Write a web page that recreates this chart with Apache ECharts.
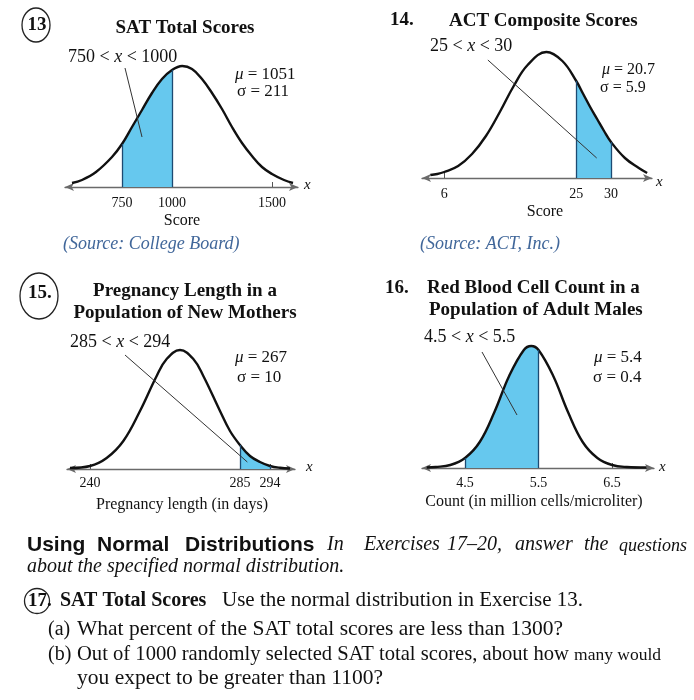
<!DOCTYPE html>
<html><head><meta charset="utf-8">
<script src="https://cdn.jsdelivr.net/npm/echarts@6/dist/echarts.min.js"></script>
<style>html,body{margin:0;padding:0;background:#fff}#c{width:694px;height:700px}</style>
</head><body><div id="c"></div>
<script>
const SERIF = '"Liberation Serif","Times New Roman",serif';
const SANS = '"Liberation Sans",Arial,sans-serif';
const SHADE = '#66c8ee';

// ---- Exercise 13: SAT Total Scores (x = score, y = curve height)
const satCurve = [[500,4],[550,7],[620,15],[700,30],[750,43],[800,60],[850,77],[900,94],[950,108],[1000,117],[1051,121],[1100,118],[1150,108],[1200,94],[1250,78],[1300,60],[1350,44],[1400,31],[1450,20],[1500,13],[1560,7],[1605,4]];
const satRange = [750, 1000];
const satTicks = [750, 1000, 1500];

// ---- Exercise 14: ACT Composite Scores
const actCurve = [[4,3],[5,4],[6,6],[8,12],[10,24],[12,42],[14,66],[16,92],[18,113],[20.7,126],[23,117],[25,97],[26,84],[27,71],[28,59],[29,47],[30,36],[32,20],[34,10],[35.2,5]];
const actRange = [25, 30];
const actTicks = [6, 25, 30];

// ---- Exercise 15: Pregnancy length
const pregCurve = [[234,1],[240,3],[245,11],[250,28],[255,58],[260,93],[263,110],[267,119],[271,110],[274,93],[279,58],[282,38],[285,24],[288,13],[291,7],[294,3],[297,1.2],[300,0.5]];
const pregRange = [285, 294];
const pregTicks = [240, 285, 294];

// ---- Exercise 16: Red blood cell count
const rbcCurve = [[3.98,0.5],[4.1,1],[4.3,3],[4.5,10],[4.7,26],[4.9,56],[5.1,92],[5.3,118],[5.4,122],[5.5,118],[5.7,92],[5.9,56],[6.1,26],[6.3,10],[6.5,3],[6.7,1],[6.97,0.5]];
const rbcRange = [4.5, 5.5];
const rbcTicks = [4.5, 5.5, 6.5];

const charts = [
  {grid:{left:65, top:57, width:233, height:130}, min:465, max:1630, curve:satCurve, range:satRange, ticks:satTicks, margin:9, leader:[[765,119],[850,50]]},
  {grid:{left:422, top:48, width:230, height:130}, min:2.8, max:35.9, curve:actCurve, range:actRange, ticks:actTicks, margin:9, leader:[[12.28,118],[27.94,20]]},
  {grid:{left:67, top:339, width:228, height:130}, min:233.1, max:301.5, curve:pregCurve, range:pregRange, ticks:pregTicks, margin:7, leader:[[250.5,114],[287.2,7]]},
  {grid:{left:422, top:338, width:232, height:130}, min:3.915, max:7.07, curve:rbcCurve, range:rbcRange, ticks:rbcTicks, margin:8, leader:[[4.731,116],[5.207,53]]}
];

const grids = [], xAxes = [], yAxes = [], series = [];
charts.forEach((c, i) => {
  grids.push(Object.assign({containLabel:false, outerBoundsMode:'none'}, c.grid));
  xAxes.push({type:'value', gridIndex:i, min:c.min, max:c.max,
    axisLine:{show:true, onZero:false, symbol:['arrow','arrow'], symbolSize:[6,9], lineStyle:{color:'#6a6a6a', width:1.3}},
    axisTick:{show:true, inside:true, length:5, customValues:c.ticks, lineStyle:{color:'#555', width:1}},
    axisLabel:{show:true, customValues:c.ticks, margin:c.margin, color:'#111', fontFamily:SERIF, fontSize:14,
      formatter:v => String(v)},
    splitLine:{show:false}});
  yAxes.push({type:'value', gridIndex:i, min:0, max:c.grid.height, show:false});
  const lo = c.range[0], hi = c.range[1];
  const shade = c.curve.filter(p => p[0] >= lo - 1e-9 && p[0] <= hi + 1e-9);
  const yAt = v => c.curve.find(p => Math.abs(p[0] - v) < 1e-9)[1];
  series.push({type:'line', xAxisIndex:i, yAxisIndex:i, data:shade, smooth:0.4, symbol:'none',
    lineStyle:{width:0}, areaStyle:{color:SHADE, opacity:1}, z:2, silent:true, animation:false});
  series.push({type:'line', xAxisIndex:i, yAxisIndex:i, data:c.curve, smooth:0.4, symbol:'none',
    lineStyle:{color:'#111', width:2.4}, z:4, silent:true, animation:false,
    markLine:{silent:true, symbol:['none','none'], label:{show:false}, animation:false,
      data:[
        [{coord:[lo,0], lineStyle:{color:'#1d4a72', width:1.3, type:'solid'}},{coord:[lo,yAt(lo)]}],
        [{coord:[hi,0], lineStyle:{color:'#1d4a72', width:1.3, type:'solid'}},{coord:[hi,yAt(hi)]}],
        [{coord:c.leader[0], lineStyle:{color:'#333', width:1, type:'solid'}},{coord:c.leader[1]}]
      ]}});
});

function T(x, base, text, o) {
  o = o || {};
  const fs = o.fs || 18;
  const fam = o.fam || SERIF;
  const font = (o.italic ? 'italic ' : '') + (o.bold ? 'bold ' : '') + fs + 'px ' + fam;
  const st = {x:x, y:base - 0.34 * fs, text:text, fill:o.color || '#111', font:font,
    textAlign:o.align || 'left', align:o.align || 'left', textVerticalAlign:'middle', verticalAlign:'middle'};
  if (o.rich) st.rich = o.rich;
  return {type:'text', silent:true, z:10, style:st};
}
function ital(fs, fam) { return {i:{font:'italic ' + fs + 'px ' + (fam || SERIF), fill:'#111'}}; }
function ell(cx, cy, rx, ry) {
  return {type:'ellipse', silent:true, z:10, shape:{cx:cx, cy:cy, rx:rx, ry:ry}, style:{fill:'none', stroke:'#222', lineWidth:1.3}};
}
const SRC = '#41679a';

const g = [
  // 13
  ell(36, 25, 14, 17), T(37, 32, '13', {bold:true, fs:19, align:'center'}),
  T(185, 35, 'SAT Total Scores', {bold:true, fs:19, align:'center'}),
  T(68, 63, '750 < {i|x} < 1000', {fs:18, rich:ital(18)}),
  T(235, 80, '{i|μ} = 1051', {fs:17, rich:ital(17)}),
  T(237, 97, 'σ = 211', {fs:17}),
  T(304, 190, 'x', {fs:15, italic:true}),
  T(182, 226, 'Score', {fs:16, align:'center'}),
  T(63, 250, '(Source: College Board)', {fs:18, italic:true, color:SRC}),
  // 14
  T(390, 27, '14.', {bold:true, fs:19}),
  T(449, 28, 'ACT Composite Scores', {bold:true, fs:19}),
  T(430, 52, '25 < {i|x} < 30', {fs:18, rich:ital(18)}),
  T(602, 75, '{i|μ} = 20.7', {fs:16, rich:ital(16)}),
  T(600, 93, 'σ = 5.9', {fs:16}),
  T(656, 187, 'x', {fs:15, italic:true}),
  T(545, 217, 'Score', {fs:16, align:'center'}),
  T(420, 250, '(Source: ACT, Inc.)', {fs:18, italic:true, color:SRC}),
  // 15
  ell(39, 296, 19, 23), T(28, 300, '15.', {bold:true, fs:19}),
  T(185, 298, 'Pregnancy Length in a', {bold:true, fs:19, align:'center'}),
  T(185, 320, 'Population of New Mothers', {bold:true, fs:19, align:'center'}),
  T(70, 348, '285 < {i|x} < 294', {fs:18, rich:ital(18)}),
  T(235, 363, '{i|μ} = 267', {fs:17, rich:ital(17)}),
  T(237, 383, 'σ = 10', {fs:17}),
  T(306, 472, 'x', {fs:15, italic:true}),
  T(182, 510, 'Pregnancy length (in days)', {fs:16, align:'center'}),
  // 16
  T(385, 295, '16.', {bold:true, fs:19}),
  T(427, 295, 'Red Blood Cell Count in a', {bold:true, fs:19}),
  T(429, 317, 'Population of Adult Males', {bold:true, fs:19}),
  T(424, 343, '4.5 < {i|x} < 5.5', {fs:18, rich:ital(18)}),
  T(594, 363, '{i|μ} = 5.4', {fs:17, rich:ital(17)}),
  T(593, 383, 'σ = 0.4', {fs:17}),
  T(659, 472, 'x', {fs:15, italic:true}),
  T(534, 507, 'Count (in million cells/microliter)', {fs:16, align:'center'}),
  // bottom text
  T(27, 552, 'Using', {bold:true, fs:21, fam:SANS}),
  T(97, 552, 'Normal', {bold:true, fs:21, fam:SANS}),
  T(185, 552, 'Distributions', {bold:true, fs:21, fam:SANS}),
  T(327, 552, 'In', {italic:true, fs:20}),
  T(364, 552, 'Exercises', {italic:true, fs:20}),
  T(447, 552, '17–20,', {italic:true, fs:20}),
  T(515, 552, 'answer', {italic:true, fs:20}),
  T(584, 552, 'the', {italic:true, fs:20}),
  T(619, 552, 'questions', {italic:true, fs:18}),
  T(27, 574, 'about the specified normal distribution.', {italic:true, fs:20}),
  ell(37, 601, 12.5, 12.5), T(28, 608, '17.', {bold:true, fs:19}),
  T(60, 608, 'SAT Total Scores', {bold:true, fs:20}),
  T(222, 608, 'Use the normal distribution in Exercise 13.', {fs:21}),
  T(48, 637, '(a)', {fs:20}),
  T(77, 637, 'What percent of the SAT total scores are less than 1300?', {fs:21.5}),
  T(48, 662, '(b)', {fs:20}),
  T(77, 662, 'Out of 1000 randomly selected SAT total scores, about how {c|many would}', {fs:20.6, rich:{c:{font:'17.5px ' + SERIF, fill:'#111'}}}),
  T(77, 686, 'you expect to be greater than 1100?', {fs:21.5})
];

const chart = echarts.init(document.getElementById('c'), null, {renderer:'canvas'});
chart.setOption({
  animation:false,
  backgroundColor:'#ffffff',
  grid:grids, xAxis:xAxes, yAxis:yAxes, series:series,
  graphic:{elements:g}
});
</script></body></html>
